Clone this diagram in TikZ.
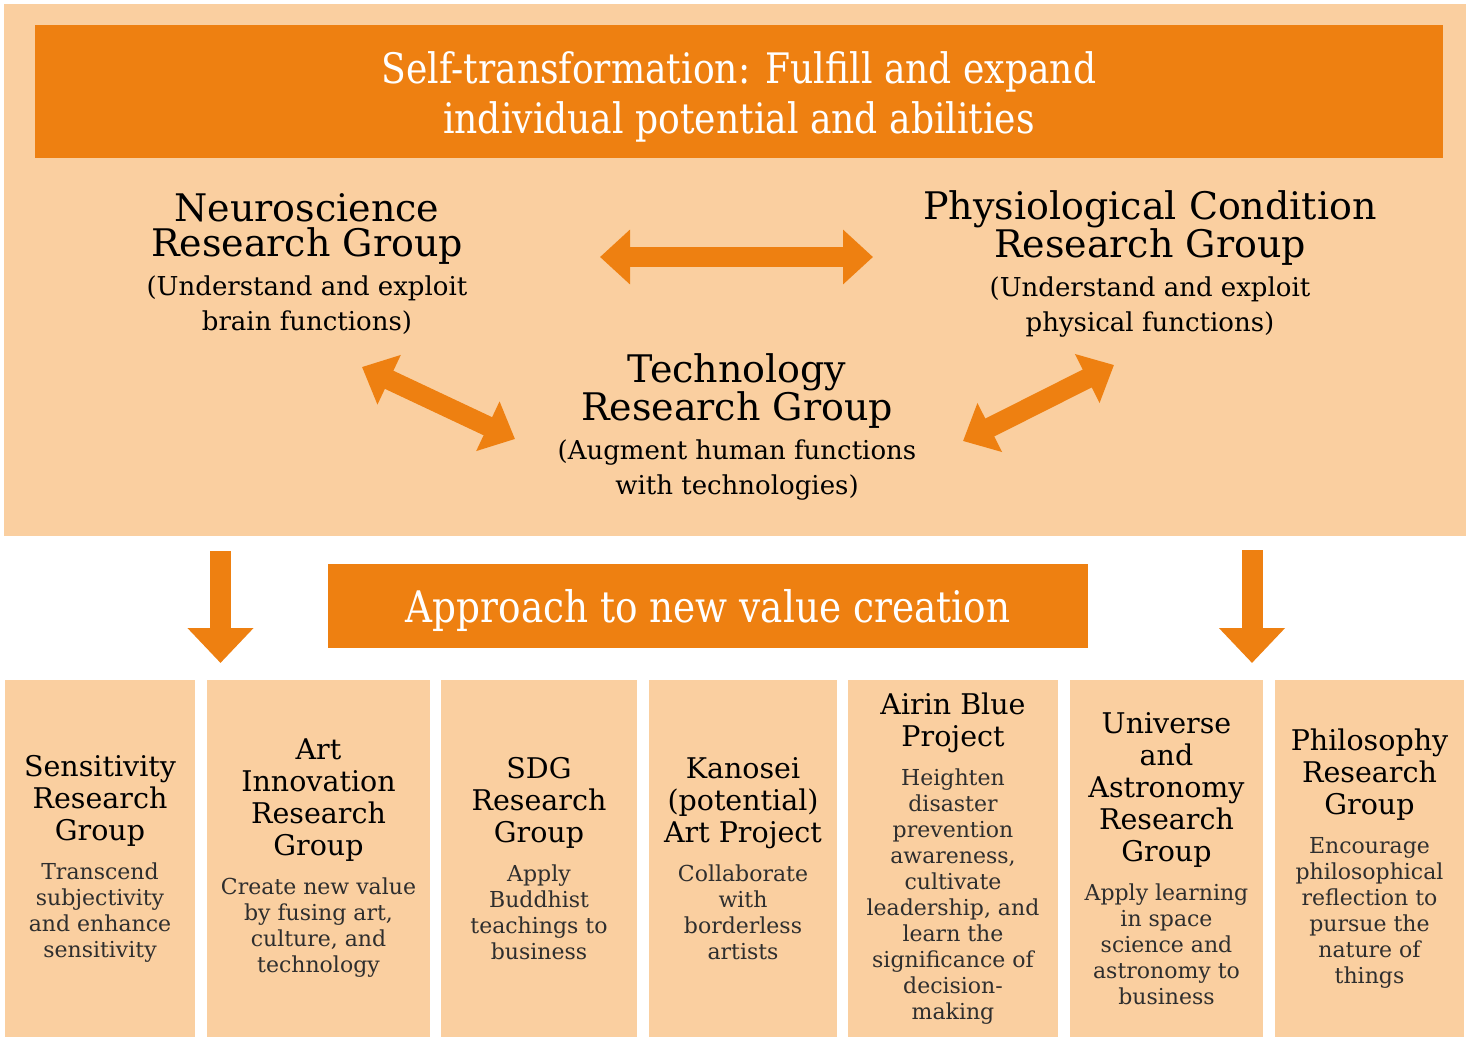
\documentclass[tikz,border=0pt]{standalone}
\usepackage{fontspec}
\setmainfont{DejaVu Serif}
\newfontfamily\bandefont[FakeStretch=0.86]{DejaVu Serif}
\usetikzlibrary{arrows.meta}

\newcommand{\espaces}{\spaceskip=\fontdimen2\font\relax\xspaceskip=\fontdimen2\font\relax}
\newcommand{\grtitre}{\fontsize{38}{35}\selectfont\espaces}
\newcommand{\grdesc}{\fontsize{26}{35}\selectfont\espaces}
\newcommand{\catitre}{\fontsize{28.5}{32}\selectfont\espaces}
\newcommand{\cadesc}{\fontsize{22}{26}\selectfont\espaces\color{black!82}}

\tikzset{
  bande/.style={fill=orangefonce,inner sep=0pt},
  bandetexte/.style={text=white,inner sep=0pt,align=center},
  groupe/.style={inner sep=0pt,align=center,text width=500pt},
  case/.style={fill=peche,inner sep=0pt,align=center,minimum height=357pt},
  fleche/.style={orangefonce,line width=20pt,
    {Triangle[length=30pt,width=53pt]}-{Triangle[length=30pt,width=53pt]}},
  flechebas/.style={orangefonce,line width=21pt,-{Triangle[length=35pt,width=64pt]}}
}

\begin{document}
\begin{tikzpicture}[x=1pt,y=-1pt]
\definecolor{orangefonce}{RGB}{238,128,17}
\definecolor{peche}{RGB}{250,207,160}
\useasboundingbox[fill=white] (0,0) rectangle (1468,1042);
\fill[peche] (4,4) rectangle (1466,536);

% bandeau du haut
\node[bande,minimum width=1408pt,minimum height=133pt] (soi) at (739,91.5) {};
\node[bandetexte,font=\bandefont\fontsize{42}{50}\selectfont] (soitexte)
  at ([yshift=-5pt]soi.center)
  {Self-transformation: Fulfill and expand\\individual potential and abilities};

% les trois groupes
\node[groupe] (neuro) at (307,264)
  {{\grtitre Neuroscience\\Research Group\par}\vspace{4pt}{\grdesc (Understand and exploit\\brain functions)\par}};
\node[groupe] (physio) at (1150,264)
  {{\grtitre Physiological Condition\\Research Group\par}\vspace{4pt}{\grdesc (Understand and exploit\\physical functions)\par}};
\node[groupe] (techno) at (737,427)
  {{\grtitre Technology\\Research Group\par}\vspace{4pt}{\grdesc (Augment human functions\\with technologies)\par}};

\coordinate (hg) at (600,257);
\coordinate (hd) at (873,257);
\coordinate (dg1) at (362,367);
\coordinate (dg2) at (515,439);
\coordinate (dd1) at (963,441);
\coordinate (dd2) at (1114,365);
\draw[fleche] (hg) -- (hd);
\draw[fleche] (dg1) -- (dg2);
\draw[fleche] (dd1) -- (dd2);

% vers la creation de valeur
\node[bande,minimum width=760pt,minimum height=84pt] (approche) at (708,606) {};
\node[bandetexte,font=\bandefont\fontsize{43.5}{50}\selectfont] (approchetexte)
  at ([yshift=-4pt]approche.center) {Approach to new value creation};
\coordinate (bg1) at (220.5,551);
\coordinate (bg2) at (220.5,663);
\coordinate (bd1) at (1252,550);
\coordinate (bd2) at (1252,663);
\draw[flechebas] (bg1) -- (bg2);
\draw[flechebas] (bd1) -- (bd2);

% les sept projets
\foreach \nom/\xa/\xb/\titre/\desc in {
  sens/5/195/{Sensitivity\\Research\\Group}/{Transcend\\subjectivity\\and enhance\\sensitivity},
  art/207/430/{Art\\Innovation\\Research\\Group}/{Create new value\\by fusing art,\\culture, and\\technology},
  sdg/441/637/{SDG\\Research\\Group}/{Apply\\Buddhist\\teachings to\\business},
  kanosei/649/837/{Kanosei\\(potential)\\Art Project}/{Collaborate\\with\\borderless\\artists},
  airin/848/1058/{Airin Blue\\Project}/{Heighten\\disaster\\prevention\\awareness,\\cultivate\\leadership, and\\learn the\\significance of\\decision-\\making},
  univers/1070/1263/{Universe\\and\\Astronomy\\Research\\Group}/{Apply learning\\in space\\science and\\astronomy to\\business},
  philo/1275/1464/{Philosophy\\Research\\Group}/{Encourage\\philosophical\\reflection to\\pursue the\\nature of\\things}} {
  \pgfmathsetmacro{\larg}{\xb-\xa}
  \node[case,minimum width=\larg pt,text width=\larg pt] (\nom) at ({(\xa+\xb)/2},858.5)
    {{\catitre\titre\par}\vspace{13pt}{\cadesc\desc\par}};
}
\end{tikzpicture}
\end{document}
